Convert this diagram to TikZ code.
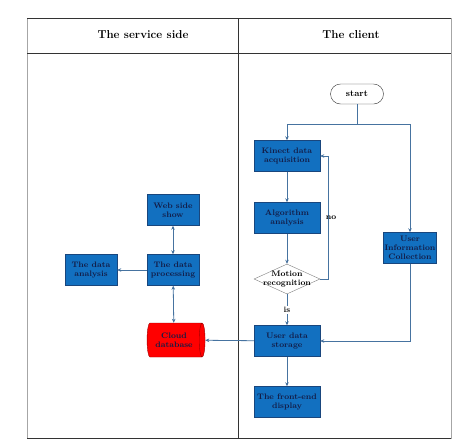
\documentclass[tikz,border=0pt]{standalone}
\usepackage{amsmath}
\usetikzlibrary{calc}
\usetikzlibrary{arrows.meta}
\usetikzlibrary{shapes.geometric}

\definecolor{boxblue}{RGB}{18,112,192}
\definecolor{boxedge}{RGB}{25,70,125}
\definecolor{linkblue}{RGB}{70,115,160}
\definecolor{textnavy}{RGB}{18,28,70}

\begin{document}
\begin{tikzpicture}[x=1pt, y=-1pt,
    block/.style={draw=boxedge, fill=boxblue, text=textnavy, font=\fontsize{8}{9}\selectfont\bfseries,
        align=center, minimum width=66pt, minimum height=31pt, inner sep=1pt},
    smallblock/.style={block, minimum width=52pt},
    link/.style={linkblue, thick, -{Stealth[length=4pt,width=3.5pt,fill=textnavy]}},
    bothlink/.style={linkblue, thick, {Stealth[length=4pt,width=3.5pt,fill=textnavy]}-{Stealth[length=4pt,width=3.5pt,fill=textnavy]}},
    plainlink/.style={linkblue, thick}]
    \useasboundingbox (0,0) rectangle (474,445);

    % table frame
    \draw[gray!70, thick] (27,18) rectangle (451,438);
    \draw[black!80, thick] (27,18) -- (451,18);
    \draw[black!80, thick] (27,53) -- (451,53);
    \draw[black!80, thick] (27,438) -- (451,438);
    \draw[black!80, thick] (238,18) -- (238,438);
    \node[font=\fontsize{11.5}{13}\selectfont\bfseries] (servicehead) at (143,35) {The service side};
    \node[font=\fontsize{11.5}{13}\selectfont\bfseries] (clienthead) at (351,35) {The client};

    % the client
    \node[draw=black!80, fill=white, rounded corners=10pt, minimum width=53pt, minimum height=20pt,
        font=\fontsize{9}{10}\selectfont\bfseries] (start) at (357,94) {start};
    \node[block] (kinect) at (287,156) {Kinect data\\acquisition};
    \node[block] (algorithm) at (287,218) {Algorithm\\analysis};
    \node[draw=gray, fill=white, shape=diamond, aspect=2.2, minimum width=66pt, minimum height=30pt,
        inner sep=0pt, align=center, font=\fontsize{8}{9}\selectfont\bfseries] (motion) at (287,279)
        {\makebox[0pt]{Motion}\\\makebox[0pt]{recognition}};
    \node[block] (storage) at (287,341) {User data\\storage};
    \node[block] (display) at (287,402) {The front-end\\display};
    \node[smallblock] (collect) at (410,248) {User\\Information\\Collection};

    \coordinate (split) at (357,124);
    \coordinate (noback) at (328,279);
    \draw[plainlink] (start) -- (split);
    \draw[link] (split) -| (kinect);
    \draw[link] (split) -| (collect);
    \draw[link] (kinect) -- (algorithm);
    \draw[link] (algorithm) -- (motion);
    \draw[link] (motion.east) -- (noback) |- (kinect.east);
    \node[font=\fontsize{8}{9}\selectfont\bfseries] (nolabel) at (331,218) {no};
    \draw[link] (motion) -- node[fill=white, inner sep=1pt, text=black, font=\fontsize{8}{9}\selectfont\bfseries] (islabel) {is} (storage);
    \draw[link] (collect) |- (storage);
    \draw[link] (storage) -- (display);

    % the service side
    \node[smallblock] (webshow) at (173,210) {Web side\\show};
    \node[smallblock] (processing) at (173,270) {The data\\processing};
    \node[smallblock] (analysis) at (91,270) {The data\\analysis};
    \node[shape=cylinder, draw=red!60!black, fill=red, text=textnavy, shape aspect=0.35,
        minimum width=34pt, minimum height=58pt, inner sep=1pt, align=center,
        font=\fontsize{8}{9}\selectfont\bfseries] (cloud) at (174,340) {Cloud\\database};

    \draw[link] (storage) -- (cloud);
    \draw[bothlink] (webshow) -- (processing);
    \draw[link] (processing) -- (analysis);
    \draw[bothlink] (processing) -- (cloud);
\end{tikzpicture}
\end{document}
